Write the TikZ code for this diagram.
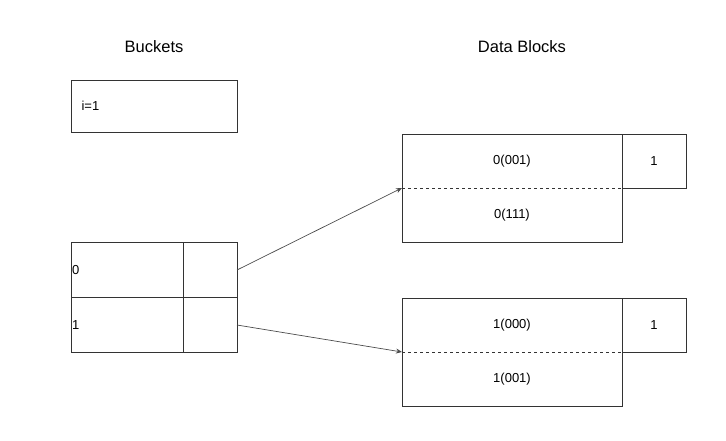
\documentclass[tikz,border=0pt]{standalone}
\usepackage{fontspec}
\setmainfont{Liberation Sans}
\usetikzlibrary{arrows.meta}
\begin{document}
\begin{tikzpicture}[x=1pt,y=-1pt,
  box/.style={draw=black!80,line width=0.8pt},
  lbl/.style={font=\fontsize{13}{15}\selectfont},
  ttl/.style={font=\fontsize{16.5}{19}\selectfont},
  conn/.style={draw=black!70,line width=0.7pt,-{Stealth[length=6pt,width=5pt]}}]
\useasboundingbox (0,0) rectangle (726,441);
\node[ttl] (tb) at (154,47) {Buckets};
\node[ttl] (td) at (522,47) {Data Blocks};
\draw[box] (71,80) rectangle (237,132);
\node[lbl,anchor=west] (gi) at (78,106) {i=1};
% bucket table
\draw[box] (71,242) rectangle (237,352);
\draw[box] (71,297) -- (237,297);
\draw[box] (183,242) -- (183,352);
\node[lbl,anchor=west,inner sep=1pt] (b0) at (71,270) {0};
\node[lbl,anchor=west,inner sep=1pt] (b1) at (71,325) {1};
\coordinate (s0) at (237,270);
\coordinate (s1) at (237,325);
% block 1
\draw[box] (402,134) rectangle (622,242);
\draw[box] (622,134) rectangle (686,188);
\draw[black!80,dashed,line width=0.7pt] (402,188) -- (622,188);
\node[lbl] (d1a) at (512,161) {0(001)};
\node[lbl] (d1b) at (512,215) {0(111)};
\node[lbl] (d1d) at (654,161) {1};
\coordinate (e0) at (402,188);
% block 2
\draw[box] (402,298) rectangle (622,406);
\draw[box] (622,298) rectangle (686,352);
\draw[black!80,dashed,line width=0.7pt] (402,352) -- (622,352);
\node[lbl] (d2a) at (512,325) {1(000)};
\node[lbl] (d2b) at (512,379) {1(001)};
\node[lbl] (d2d) at (654,325) {1};
\coordinate (e1) at (402,352);
\draw[conn] (s0) -- (e0);
\draw[conn] (s1) -- (e1);
\end{tikzpicture}
\end{document}
